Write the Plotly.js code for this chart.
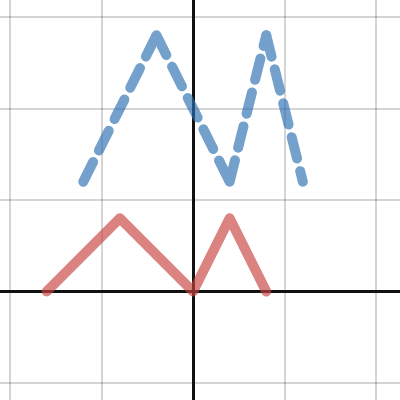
<!DOCTYPE html>
<html>
<head>
<meta charset="utf-8">
<script src="https://cdn.plot.ly/plotly-3.0.1.min.js"></script>
<style>
  html, body { margin: 0; padding: 0; background: #fff; }
  #graph { width: 400px; height: 400px; }
</style>
</head>
<body>
<div id="graph"></div>
<script>
// red solid zigzag
const redX = [-8, -4, 0, 2, 4];
const redY = [0, 4, 0, 4, 0];
// blue dashed "M"
const blueX = [-6, -2, 2, 4, 6];
const blueY = [6, 14, 6, 14, 6];

const data = [
  {
    x: redX, y: redY, type: "scatter", mode: "lines",
    line: { color: "#c74440", width: 10 },
    hoverinfo: "skip"
  }
];

// the dash pattern restarts at every corner of the blue path,
// so each segment gets its own trace
for (let i = 0; i < blueX.length - 1; i++) {
  data.push({
    x: blueX.slice(i, i + 2), y: blueY.slice(i, i + 2),
    type: "scatter", mode: "lines",
    line: { color: "#2d70b3", width: 10, dash: "22px,13px" },
    hoverinfo: "skip"
  });
}

const axisBase = {
  showgrid: true, gridcolor: "rgba(0,0,0,0.17)", gridwidth: 2,
  dtick: 5, tick0: 0,
  zeroline: true, zerolinecolor: "#111", zerolinewidth: 3,
  showticklabels: false, ticks: "", showline: false, fixedrange: true
};

const layout = {
  width: 400, height: 400,
  margin: { l: 0, r: 0, t: 0, b: 0 },
  showlegend: false,
  paper_bgcolor: "#fff", plot_bgcolor: "#fff",
  xaxis: Object.assign({}, axisBase, { range: [-10.55, 11.31] }),
  yaxis: Object.assign({}, axisBase, { range: [-5.93, 15.93] })
};

Plotly.newPlot("graph", data, layout, { staticPlot: true }).then(function () {
  // round the line ends like the original
  document.querySelectorAll("#graph .scatterlayer path.js-line").forEach(function (p) {
    p.style.strokeLinecap = "round";
    p.style.strokeLinejoin = "round";
  });
  // fade the curves as one group so touching segments don't darken
  document.querySelectorAll("#graph .scatterlayer").forEach(function (g) {
    g.style.opacity = 0.66;
  });
});
</script>
</body>
</html>
